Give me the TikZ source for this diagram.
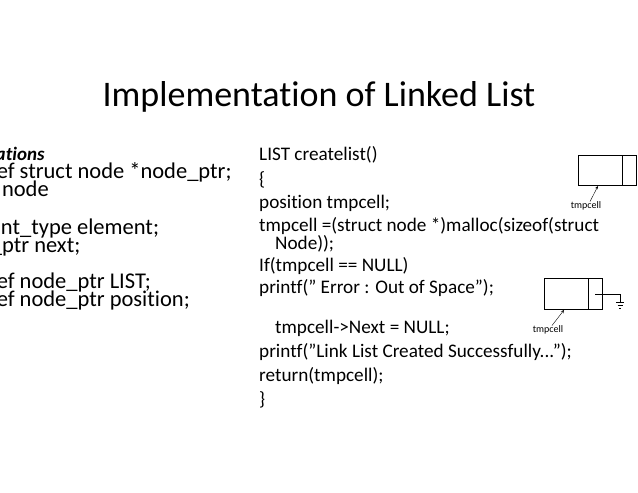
\documentclass[tikz,border=0pt]{standalone}
\usepackage{fontspec}
\setmainfont[Ligatures={NoCommon}]{Carlito}
\begin{document}
\begin{tikzpicture}[x=1pt,y=-1pt,
  lt/.style={anchor=base west,inner sep=0,font=\fontsize{22.5}{22.5}\selectfont},
  rt/.style={anchor=base west,inner sep=0,font=\fontsize{19.2}{19.2}\selectfont},
  lbl/.style={inner sep=0,font=\fontsize{10}{10}\selectfont},
  bx/.style={draw,line width=0.7pt}]
\useasboundingbox (0,0) rectangle (638,493);
\clip (0,0) rectangle (638,493);
\node[inner sep=0,font=\fontsize{36}{36}\selectfont] (title) at (319,97) {Implementation of Linked List};
\node[lt,font=\fontsize{19}{19}\selectfont\bfseries\itshape] (l0) at (-55,160) {Declarations};
\node[lt] (l1) at (-56,178) {typedef struct node *node\_ptr;};
\node[lt] (l2) at (-56,196) {struct node};
\node[lt] (l4) at (-56,234) {element\_type element;};
\node[lt] (l5) at (-56,252) {node\_ptr next;};
\node[lt] (l7) at (-56,288) {typedef node\_ptr LIST;};
\node[lt] (l8) at (-56,306) {typedef node\_ptr position;};
\node[rt] (r1) at (259,160) {LIST createlist()};
\node[rt] (r2) at (259,185) {\{};
\node[rt] (r3) at (259,208) {position tmpcell;};
\node[rt] (r4) at (259,231) {tmpcell =(struct node *)malloc(sizeof(struct};
\node[rt] (r5) at (275,249) {Node));};
\node[rt] (r6) at (259,271) {If(tmpcell == NULL)};
\node[rt] (r7) at (259,293) {printf(" Error : Out of Space");};
\node[rt] (r8) at (275,333) {tmpcell->Next = NULL;};
\node[rt] (r9) at (259,357) {printf("Link List Created Successfully...");};
\node[rt] (r10) at (259,381) {return(tmpcell);};
\node[rt] (r11) at (259,405) {\}};
% box 1
\draw[bx] (578,155) rectangle (636,185);
\draw[bx] (622,155) -- (622,185);
\node[lbl] (t1) at (586,206) {tmpcell};
\draw[-stealth] (t1.north) ++(4,0) -- (598,186);
% box 2
\draw[bx] (544,278) rectangle (602,309);
\draw[bx] (588,278) -- (588,309);
\draw (595,294) -- (620,294) -- (620,302);
\draw (616,302) -- (624,302) (617.5,305) -- (622.5,305) (619,308) -- (621,308);
\node[lbl] (t2) at (548,330) {tmpcell};
\draw[-stealth] (t2.north) ++(4,0) -- (564,310);
\end{tikzpicture}
\end{document}
